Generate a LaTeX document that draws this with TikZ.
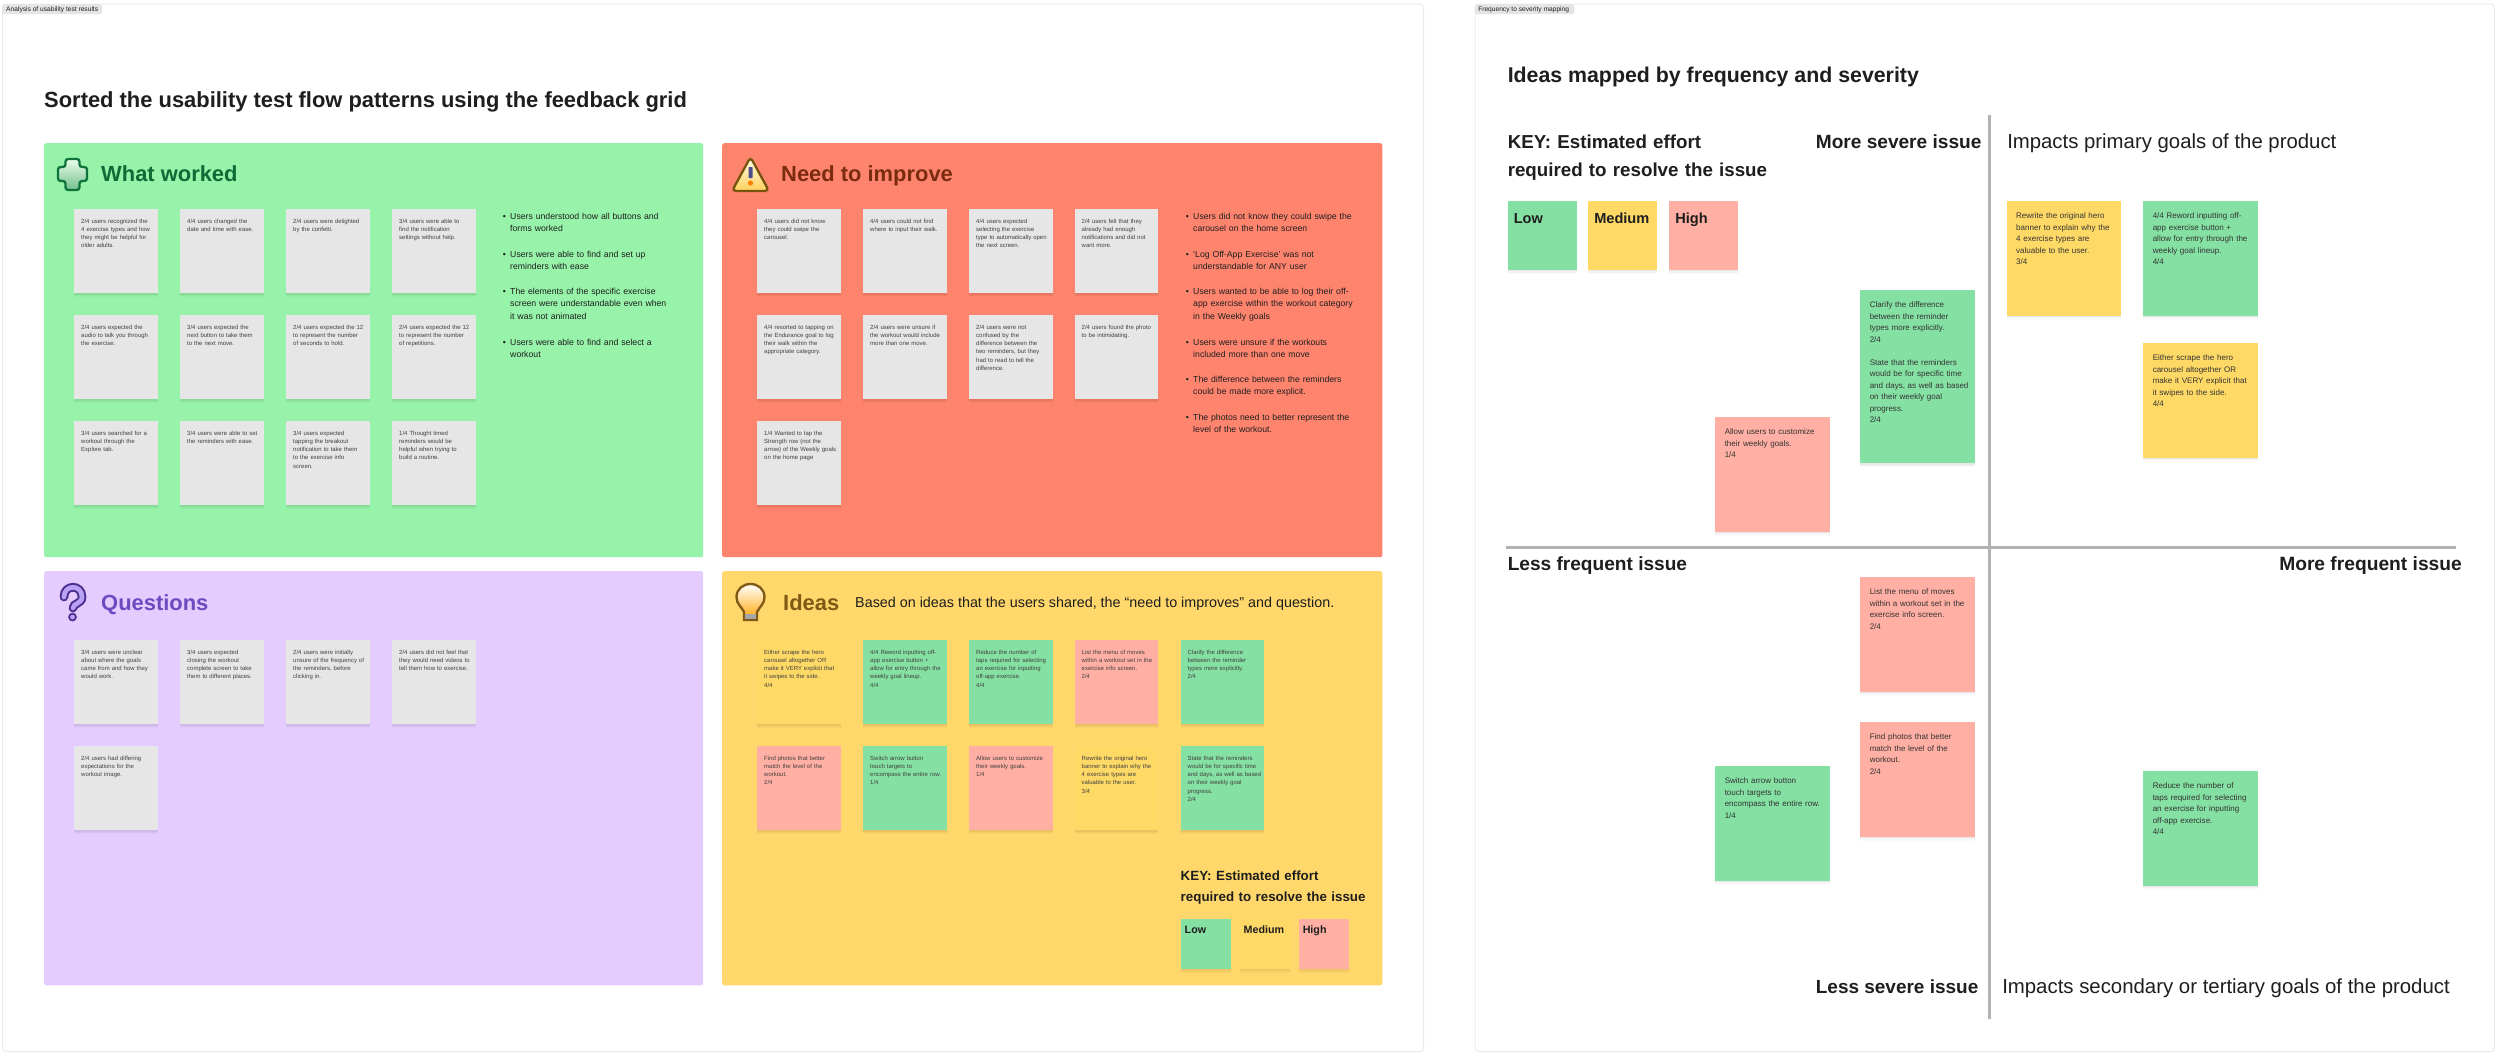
\documentclass[tikz,border=0pt]{standalone}
\usepackage{fontspec}
\setmainfont{Liberation Sans}
\usepackage{xcolor}
\usetikzlibrary{shadows}

\definecolor{lowc}{HTML}{85E0A3}
\definecolor{medc}{HTML}{FFD966}
\definecolor{highc}{HTML}{FFAFA3}
\definecolor{greyc}{HTML}{E6E6E6}
\definecolor{inkc}{HTML}{1E1E1E}

\tikzset{
    frame/.style={draw=black!8, fill=white, rounded corners=1mm, line width=.3mm, anchor=north west, inner sep=0},
    tag/.style={fill=black!10, rounded corners=.5mm, anchor=north west, inner sep=0, font=\fontsize{5.67pt}{7pt}\selectfont, text=inkc},
    panel/.style={rounded corners=.6mm, anchor=north west, inner sep=0, minimum width=198mm, minimum height=124.2mm},
    title/.style={anchor=base west, inner sep=0, text=inkc, font=\fontsize{18.7pt}{22pt}\bfseries\selectfont},
    head/.style={anchor=base west, inner sep=0, font=\fontsize{18.7pt}{22pt}\bfseries\selectfont},
    keytext/.style={anchor=base west, inner sep=0, text=inkc, align=left},
    item/.style={anchor=base west, inner sep=0, text=inkc, text width=70mm, align=left, font=\fontsize{7.42pt}{10.8pt}\selectfont},
    shade/.style={drop shadow={shadow xshift=0mm, shadow yshift=-1.2mm, opacity=.02, fill=black},
        drop shadow={shadow xshift=0mm, shadow yshift=-.8mm, opacity=.03, fill=black},
        drop shadow={shadow xshift=0mm, shadow yshift=-.4mm, opacity=.04, fill=black}},
    nowrap/.style={execute at begin node={\rightskip=-8mm plus 2em\relax}},
    card/.style={shade, nowrap, fill=greyc, anchor=north west, inner ysep=0, inner xsep=2.1mm, text width=20.85mm, align=left,
        text height=4.14mm, text depth=21.06mm, text=black!75, font=\fontsize{5.1pt}{7.1pt}\selectfont},
    note/.style={shade, nowrap, anchor=north west, inner ysep=0, inner xsep=2.85mm, text width=28.65mm, align=left,
        text height=5.3mm, text depth=29mm, text=black!80, font=\fontsize{6.86pt}{9.8pt}\selectfont},
    keybox/.style={shade, nowrap, anchor=north west, inner ysep=0, inner xsep=1.2mm, text width=12.6mm, align=left,
        text height=4.4mm, text depth=10.6mm, text=inkc, font=\fontsize{9.15pt}{11pt}\bfseries\selectfont},
    bigkeybox/.style={shade, nowrap, anchor=north west, inner ysep=0, inner xsep=1.8mm, text width=17.1mm, align=left,
        text height=6.7mm, text depth=14mm, text=inkc, font=\fontsize{12.45pt}{15pt}\bfseries\selectfont},
    axis/.style={draw=black!30, line width=.9mm},
}
\newcommand{\bul}{\llap{•\hspace{3.6pt}}}

\begin{document}
\begin{tikzpicture}[x=.3mm, y=-.3mm]
    \useasboundingbox (0,0) rectangle (2500,1054);

    % left board
    \node[frame, minimum width=426.3mm, minimum height=314.25mm] (boardA) at (2,3.5) {};
    \node[tag, minimum width=30mm, minimum height=3mm] (tagA) at (2,4) {};
    \node[anchor=base west, inner sep=0, font=\fontsize{5.67pt}{7pt}\selectfont, text=inkc] (tagAtxt) at (6,11.5) {Analysis of usability test results};
    \node[title] (titleA) at (44,107) {Sorted the usability test flow patterns using the feedback grid};

    \node[panel, fill={rgb,255:red,150;green,243;blue,169}, minimum width=197.7mm] (pg) at (44,143) {};
    \node[panel, fill={rgb,255:red,255;green,132;blue,110}] (pr) at (722,143) {};
    \node[panel, fill={rgb,255:red,228;green,204;blue,255}, minimum width=197.7mm] (pp) at (44,571) {};
    \node[panel, fill={rgb,255:red,255;green,215;blue,107}] (py) at (722,571) {};

    % icons
    \draw[line width=.7mm, draw={rgb,255:red,15;green,115;blue,60}, top color=green!8!white, bottom color=lowc!85!black, rounded corners=.8mm]
        (65.5,159) -- (79.5,159) -- (79.5,167) -- (87,167) -- (87,181) -- (79.5,181) -- (79.5,190) -- (65.5,190) -- (65.5,181) -- (58,181) -- (58,167) -- (65.5,167) -- cycle;
    \draw[line width=.7mm, draw={rgb,255:red,120;green,85;blue,15}, top color=yellow!8!white, bottom color=medc!90!orange, rounded corners=1.2mm]
        (750.5,157) -- (769,191) -- (732,191) -- cycle;
    \fill[black!65!blue!70!white, rounded corners=.2mm] (748.5,167) rectangle (752.5,178);
    \fill[orange] (750.5,183) circle (2.6);
    \draw[line width=2.6mm, line cap=round, draw={rgb,255:red,75;green,47;blue,143}] (64,597) .. controls (64,584) and (82,584) .. (82,597) .. controls (82,604) and (73,603) .. (73,608) (72.5,617) -- (72.5,617.1);
    \draw[line width=1.4mm, line cap=round, draw={rgb,255:red,185;green,162;blue,245}] (64,597) .. controls (64,584) and (82,584) .. (82,597) .. controls (82,604) and (73,603) .. (73,608) (72.5,617) -- (72.5,617.1);
    \draw[line width=.7mm, draw={rgb,255:red,127;green,90;blue,20}, top color=white, bottom color=orange!70!yellow]
        (744,612) .. controls (741,606) and (736.5,604) .. (736.5,597) .. controls (736.5,589) and (743,584) .. (750.5,584) .. controls (758,584) and (764.5,589) .. (764.5,597) .. controls (764.5,604) and (760,606) .. (757,612) -- (757,620) -- (744,620) -- cycle;
    \fill[black!35] (745,614) rectangle (756,619);

    % what worked
    \node[head, text={rgb,255:red,13;green,107;blue,53}] (hg) at (101,181.7) {What worked};
    \node[card] (g1) at (74,209) {2/4 users recognized the\\4 exercise types and how\\they might be helpful for\\older adults.};
    \node[card] (g2) at (180,209) {4/4 users changed the\\date and time with ease.};
    \node[card] (g3) at (286,209) {2/4 users were delighted\\by the confetti.};
    \node[card] (g4) at (392,209) {3/4 users were able to\\find the notification\\settings without help.};
    \node[card] (g5) at (74,315) {2/4 users expected the\\audio to talk you through\\the exercise.};
    \node[card] (g6) at (180,315) {3/4 users expected the\\next button to take them\\to the next move.};
    \node[card] (g7) at (286,315) {2/4 users expected the 12\\to represent the number\\of seconds to hold.};
    \node[card] (g8) at (392,315) {2/4 users expected the 12\\to represent the number\\of repetitions.};
    \node[card] (g9) at (74,421) {3/4 users searched for a\\workout through the\\Explore tab.};
    \node[card] (g10) at (180,421) {3/4 users were able to set\\the reminders with ease.};
    \node[card] (g11) at (286,421) {3/4 users expected\\tapping the breakout\\notification to take them\\to the exercise info\\screen.};
    \node[card] (g12) at (392,421) {1/4 Thought timed\\reminders would be\\helpful when trying to\\build a routine.};
    \node[item] (gi1) at (510,219) {\bul Users understood how all buttons and\\forms worked};
    \node[item] (gi2) at (510,257) {\bul Users were able to find and set up\\reminders with ease};
    \node[item] (gi3) at (510,294) {\bul The elements of the specific exercise\\screen were understandable even when\\it was not animated};
    \node[item] (gi4) at (510,345) {\bul Users were able to find and select a\\workout};

    % need to improve
    \node[head, text={rgb,255:red,122;green,44;blue,16}] (hr) at (781,181.7) {Need to improve};
    \node[card] (r1) at (757,209) {4/4 users did not know\\they could swipe the\\carousel.};
    \node[card] (r2) at (863,209) {4/4 users could not find\\where to input their walk.};
    \node[card] (r3) at (969,209) {4/4 users expected\\selecting the exercise\\type to automatically open\\the next screen.};
    \node[card] (r4) at (1074.5,209) {2/4 users felt that they\\already had enough\\notifications and did not\\want more.};
    \node[card] (r5) at (757,315) {4/4 resorted to tapping on\\the Endurance goal to log\\their walk within the\\appropriate category.};
    \node[card] (r6) at (863,315) {2/4 users were unsure if\\the workout would include\\more than one move.};
    \node[card] (r7) at (969,315) {2/4 users were not\\confused by the\\difference between the\\two reminders, but they\\had to read to tell the\\difference.};
    \node[card] (r8) at (1074.5,315) {2/4 users found the photo\\to be intimidating.};
    \node[card] (r9) at (757,421) {1/4 Wanted to tap the\\Strength row (not the\\arrow) of the Weekly goals\\on the home page};
    \node[item] (ri1) at (1193,219) {\bul Users did not know they could swipe the\\carousel on the home screen};
    \node[item] (ri2) at (1193,257) {\bul ‘Log Off-App Exercise’ was not\\understandable for ANY user};
    \node[item] (ri3) at (1193,294) {\bul Users wanted to be able to log their off-\\app exercise within the workout category\\in the Weekly goals};
    \node[item] (ri4) at (1193,345) {\bul Users were unsure if the workouts\\included more than one move};
    \node[item] (ri5) at (1193,382) {\bul The difference between the reminders\\could be made more explicit.};
    \node[item] (ri6) at (1193,420) {\bul The photos need to better represent the\\level of the workout.};

    % questions
    \node[head, text={rgb,255:red,106;green,76;blue,192}] (hp) at (101,610) {Questions};
    \node[card] (p1) at (74,640) {3/4 users were unclear\\about where the goals\\came from and how they\\would work.};
    \node[card] (p2) at (180,640) {3/4 users expected\\closing the workout\\complete screen to take\\them to different places.};
    \node[card] (p3) at (286,640) {2/4 users were initially\\unsure of the frequency of\\the reminders, before\\clicking in.};
    \node[card] (p4) at (392,640) {2/4 users did not feel that\\they would need videos to\\tell them how to exercise.};
    \node[card] (p5) at (74,746) {2/4 users had differing\\expectations for the\\workout image.};

    % ideas
    \node[head, text={rgb,255:red,127;green,90;blue,20}] (hy) at (783,610) {Ideas};
    \node[keytext, font=\fontsize{12.24pt}{15pt}\selectfont] (suby) at (855,607.7) {Based on ideas that the users shared, the “need to improves” and question.};
    \node[card, fill=medc] (y1) at (757,640) {Either scrape the hero\\carousel altogether OR\\make it VERY explicit that\\it swipes to the side.\\4/4};
    \node[card, fill=lowc] (y2) at (863,640) {4/4 Reword inputting off-\\app exercise button +\\allow for entry through the\\weekly goal lineup.\\4/4};
    \node[card, fill=lowc] (y3) at (969,640) {Reduce the number of\\taps required for selecting\\an exercise for inputting\\off-app exercise.\\4/4};
    \node[card, fill=highc] (y4) at (1074.5,640) {List the menu of moves\\within a workout set in the\\exercise info screen.\\2/4};
    \node[card, fill=lowc] (y5) at (1180.5,640) {Clarify the difference\\between the reminder\\types more explicitly.\\2/4};
    \node[card, fill=highc] (y6) at (757,746) {Find photos that better\\match the level of the\\workout.\\2/4};
    \node[card, fill=lowc] (y7) at (863,746) {Switch arrow button\\touch targets to\\encompass the entire row.\\1/4};
    \node[card, fill=highc] (y8) at (969,746) {Allow users to customize\\their weekly goals.\\1/4};
    \node[card, fill=medc] (y9) at (1074.5,746) {Rewrite the original hero\\banner to explain why the\\4 exercise types are\\valuable to the user.\\3/4};
    \node[card, fill=lowc] (y10) at (1180.5,746) {State that the reminders\\would be for specific time\\and days, as well as based\\on their weekly goal\\progress.\\2/4};
    \node[keytext, text width=70mm, font=\fontsize{11.4pt}{17.9pt}\bfseries\selectfont] (keyA) at (1180.5,880.7) {KEY: Estimated effort\\required to resolve the issue};
    \node[keybox, fill=lowc] (lowA) at (1180.5,918.7) {Low};
    \node[keybox, fill=medc] (medA) at (1239.5,918.7) {Medium};
    \node[keybox, fill=highc] (highA) at (1298.5,918.7) {High};

    % right board
    \node[frame, minimum width=305.8mm, minimum height=314.25mm] (boardB) at (1474.6,3.5) {};
    \node[tag, minimum width=29.7mm, minimum height=3mm] (tagB) at (1475,4) {};
    \node[anchor=base west, inner sep=0, font=\fontsize{5.67pt}{7pt}\selectfont, text=inkc] (tagBtxt) at (1478,11.5) {Frequency to severity mapping};
    \node[title, font=\fontsize{18.2pt}{22pt}\bfseries\selectfont] (titleB) at (1507.5,82) {Ideas mapped by frequency and severity};
    \node[keytext, text width=90mm, font=\fontsize{16pt}{24.75pt}\bfseries\selectfont] (keyB) at (1507.5,148) {KEY: Estimated effort\\required to resolve the issue};
    \node[bigkeybox, fill=lowc] (lowB) at (1507.5,200.7) {Low};
    \node[bigkeybox, fill=medc] (medB) at (1588,200.7) {Medium};
    \node[bigkeybox, fill=highc] (highB) at (1669,200.7) {High};

    % axes
    \coordinate (vtop) at (1989,115);
    \coordinate (vbot) at (1989,1019);
    \coordinate (hleft) at (1506,547);
    \coordinate (hright) at (2456,547);
    \draw[axis] (vtop) -- (vbot);
    \draw[axis] (hleft) -- (hright);
    \node[keytext, font=\fontsize{16.3pt}{20pt}\bfseries\selectfont] (more) at (1815.6,148) {More severe issue};
    \node[keytext, font=\fontsize{17.37pt}{21pt}\selectfont] (prim) at (2007,148) {Impacts primary goals of the product};
    \node[keytext, font=\fontsize{16.3pt}{20pt}\bfseries\selectfont] (lessf) at (1507.5,570) {Less frequent issue};
    \node[keytext, font=\fontsize{16.4pt}{20pt}\bfseries\selectfont] (moref) at (2279,570) {More frequent issue};
    \node[keytext, font=\fontsize{16.2pt}{20pt}\bfseries\selectfont] (lesss) at (1815.6,993.7) {Less severe issue};
    \node[keytext, font=\fontsize{17.4pt}{21pt}\selectfont] (sec) at (2002,993.7) {Impacts secondary or tertiary goals of the product};

    % mapped ideas
    \node[note, fill=medc] (m1) at (2006.4,201) {Rewrite the original hero\\banner to explain why the\\4 exercise types are\\valuable to the user.\\3/4};
    \node[note, fill=lowc] (m2) at (2143,201) {4/4 Reword inputting off-\\app exercise button +\\allow for entry through the\\weekly goal lineup.\\4/4};
    \node[note, fill=medc] (m3) at (2143,343) {Either scrape the hero\\carousel altogether OR\\make it VERY explicit that\\it swipes to the side.\\4/4};
    \node[note, fill=lowc, text depth=46.6mm] (m4) at (1860,290) {Clarify the difference\\between the reminder\\types more explicitly.\\2/4\\[9.8pt]State that the reminders\\would be for specific time\\and days, as well as based\\on their weekly goal\\progress.\\2/4};
    \node[note, fill=highc] (m5) at (1715,417) {Allow users to customize\\their weekly goals.\\1/4};
    \node[note, fill=highc] (m6) at (1860,577) {List the menu of moves\\within a workout set in the\\exercise info screen.\\2/4};
    \node[note, fill=highc] (m7) at (1860,722) {Find photos that better\\match the level of the\\workout.\\2/4};
    \node[note, fill=lowc] (m8) at (1715,766) {Switch arrow button\\touch targets to\\encompass the entire row.\\1/4};
    \node[note, fill=lowc] (m9) at (2143,771) {Reduce the number of\\taps required for selecting\\an exercise for inputting\\off-app exercise.\\4/4};
\end{tikzpicture}
\end{document}
